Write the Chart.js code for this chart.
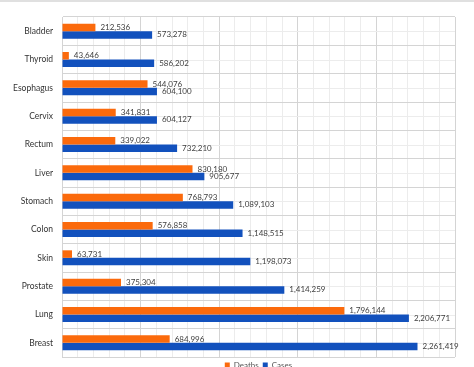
<!DOCTYPE html>
<html>
<head>
<meta charset="utf-8">
<script src="https://cdn.jsdelivr.net/npm/chart.js@4.4.1/dist/chart.umd.min.js"></script>
<style>
  html, body { margin: 0; padding: 0; background: #fff; overflow: hidden; }
  #wrap { position: relative; width: 474px; height: 379px; }
  #band { position: absolute; left: 0; top: 0; width: 474px; height: 2px; background: #e0e0e0; }
</style>
</head>
<body>
<div id="wrap">
  <canvas id="cancer"></canvas>
  <div id="band"></div>
</div>
<script>
var sites = ['Bladder', 'Thyroid', 'Esophagus', 'Cervix', 'Rectum', 'Liver',
             'Stomach', 'Colon', 'Skin', 'Prostate', 'Lung', 'Breast'];
var deaths = [212536, 43646, 544076, 341831, 339022, 830180,
              768793, 576858, 63731, 375304, 1796144, 684996];
var cases = [573278, 586202, 604100, 604127, 732210, 905677,
             1089103, 1148515, 1198073, 1414259, 2206771, 2261419];

// light lines through the middle of each category (minor gridlines)
var midLines = {
  id: 'midLines',
  beforeDatasetsDraw: function(chart) {
    var ctx = chart.ctx, y = chart.scales.y, area = chart.chartArea;
    ctx.save();
    ctx.strokeStyle = '#ececec';
    ctx.lineWidth = 1;
    for (var i = 0; i < sites.length; i++) {
      var py = Math.round(y.getPixelForValue(i)) + 0.5;
      ctx.beginPath();
      ctx.moveTo(area.left, py);
      ctx.lineTo(area.right, py);
      ctx.stroke();
    }
    ctx.restore();
  }
};

// value labels at the end of each bar
var barLabels = {
  id: 'barLabels',
  afterDatasetsDraw: function(chart) {
    var ctx = chart.ctx;
    ctx.save();
    ctx.font = '8px Lato';
    ctx.fillStyle = '#404040';
    ctx.textBaseline = 'middle';
    ctx.textAlign = 'left';
    chart.data.datasets.forEach(function(ds, di) {
      chart.getDatasetMeta(di).data.forEach(function(bar, i) {
        ctx.fillText(ds.data[i].toLocaleString('en-US'), bar.x + 5, bar.y);
      });
    });
    ctx.restore();
  }
};

var ctx = document.getElementById('cancer');
ctx.width = 474;
ctx.height = 379;

var chart = new Chart(ctx, {
  type: 'bar',
  data: {
    labels: sites,
    datasets: [
      { label: 'Deaths', data: deaths, backgroundColor: '#fb6a0c' },
      { label: 'Cases', data: cases, backgroundColor: '#1251bd' }
    ]
  },
  options: {
    indexAxis: 'y',
    responsive: false,
    animation: false,
    categoryPercentage: 0.53,
    barPercentage: 1.0,
    layout: { padding: { left: 0, right: 19, top: 17, bottom: 0 } },
    scales: {
      x: {
        min: 0,
        max: 2500000,
        afterFit: function(scale) { scale.height = 0; },
        ticks: { display: false, stepSize: 100000 },
        border: { display: false },
        grid: {
          drawTicks: false,
          color: function(c) {
            return (c.tick && c.tick.value % 500000 === 0) ? '#d4d4d4' : '#ececec';
          }
        }
      },
      y: {
        afterFit: function(scale) { scale.width = 62; },
        ticks: { color: '#333', font: { family: 'Lato', size: 8.5 }, padding: 9 },
        border: { color: '#d4d4d4' },
        grid: { offset: true, drawTicks: false, color: '#d4d4d4' }
      }
    },
    plugins: {
      tooltip: { enabled: false },
      legend: {
        position: 'bottom',
        fullSize: false,
        labels: {
          boxWidth: 5, boxHeight: 5, padding: 4,
          color: '#555', font: { family: 'Lato', size: 8 }
        }
      }
    }
  },
  plugins: [midLines, barLabels]
});
</script>
</body>
</html>
